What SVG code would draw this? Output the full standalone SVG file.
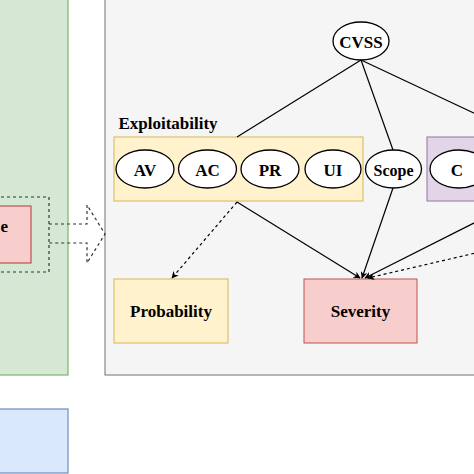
<svg xmlns="http://www.w3.org/2000/svg" width="474" height="474" viewBox="0 0 474 474">
<style>
text{font-family:"Liberation Serif","Times New Roman",serif;font-weight:bold;fill:#000;text-anchor:middle;dominant-baseline:central}
.el{fill:#fff;stroke:#000;stroke-width:1.3}
.ln{fill:none;stroke:#000;stroke-width:1.2}
.dash{stroke-dasharray:3 3}
</style>
<defs>
<marker id="arr" viewBox="0 0 10 10" refX="9" refY="5" markerWidth="7" markerHeight="7" orient="auto" markerUnits="userSpaceOnUse">
<path d="M0,0 L10,5 L0,10 L3,5 Z" fill="#000"/>
</marker>
</defs>
<rect width="474" height="474" fill="#fff"/>
<g id="panel-left">
<rect x="-5" y="-5" width="73" height="380" fill="#d5e8d4" stroke="#82b366" stroke-width="1.2"/>
</g>
<g id="panel-blue">
<rect x="-5" y="409" width="73" height="64" fill="#dae8fc" stroke="#6c8ebf" stroke-width="1.2"/>
</g>
<g id="panel-main">
<rect x="105" y="-5" width="380" height="380" fill="#f5f5f5" stroke="#888" stroke-width="1.2"/>
</g>
<g id="red-node">
<rect x="-5" y="206" width="36" height="57" fill="#f8cecc" stroke="#b85450" stroke-width="1.2"/>
<text x="8" y="226" font-size="17" style="text-anchor:end">e</text>
</g>
<g id="dashed-group">
<rect x="-5" y="197" width="54" height="75" fill="none" stroke="#333" stroke-width="1.2" stroke-dasharray="3 3"/>
</g>
<g id="exploitability">
<rect x="114" y="137" width="249" height="64" fill="#fff2cc" stroke="#d6b656" stroke-width="1"/>
<text x="168" y="123" font-size="17">Exploitability</text>
</g>
<g id="impact">
<rect x="427" y="137" width="60" height="64" fill="#e1d5e7" stroke="#9673a6" stroke-width="1"/>
</g>
<g id="av"><ellipse class="el" cx="145" cy="169" rx="29" ry="19"/><text x="145" y="170" font-size="17">AV</text></g>
<g id="ac"><ellipse class="el" cx="207.5" cy="169" rx="29" ry="19"/><text x="207.5" y="170" font-size="17">AC</text></g>
<g id="pr"><ellipse class="el" cx="270" cy="169" rx="29" ry="19"/><text x="270" y="170" font-size="17">PR</text></g>
<g id="ui"><ellipse class="el" cx="333" cy="169" rx="28" ry="19"/><text x="333" y="170" font-size="17">UI</text></g>
<g id="scope"><ellipse class="el" cx="393.5" cy="169" rx="28" ry="19"/><text x="393.5" y="170" font-size="16">Scope</text></g>
<g id="c"><ellipse class="el" cx="459" cy="169" rx="29" ry="19"/><text x="457" y="170" font-size="17">C</text></g>
<g id="cvss"><ellipse class="el" cx="361" cy="41" rx="28" ry="19"/><text x="361" y="42" font-size="17">CVSS</text></g>
<g id="probability">
<rect x="114" y="279" width="114" height="64" fill="#fff2cc" stroke="#d6b656" stroke-width="1"/>
<text x="171" y="311" font-size="17">Probability</text>
</g>
<g id="severity">
<rect x="304" y="279" width="113" height="64" fill="#f8cecc" stroke="#b85450" stroke-width="1"/>
<text x="360.5" y="311" font-size="17">Severity</text>
</g>
<g id="connectors">
<path class="ln" d="M361,60 L237,137"/>
<path class="ln" d="M361,60 L393,150"/>
<path class="ln" d="M361,60 L480,116"/>
<path class="ln" d="M237,202 L360,278" marker-end="url(#arr)"/>
<path class="ln" d="M393,188 L362,278" marker-end="url(#arr)"/>
<path class="ln" d="M480,220 L365,278" marker-end="url(#arr)"/>
<path class="ln dash" d="M480,252 L368,278" marker-end="url(#arr)"/>
<path class="ln dash" d="M237,202 L172,278" marker-end="url(#arr)"/>
<path fill="none" stroke="#333" stroke-width="1.2" stroke-dasharray="3 3" d="M49,224 L87,224 L87,205 L105,234 L87,263 L87,243 L49,243"/>
</g>
</svg>
